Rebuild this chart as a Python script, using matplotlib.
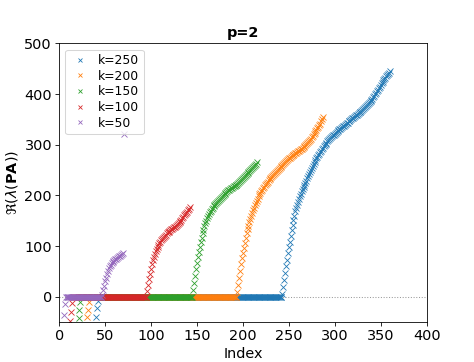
import numpy as np
import matplotlib
matplotlib.use("Agg")
import matplotlib.pyplot as plt

labels = ["k=250", "k=200", "k=150", "k=100", "k=50"]

# first index of each series
start_index = [40, 30, 21, 12, 4]

# leading negative eigenvalues (sorted ascending)
neg_values = [
    [-39, -23, -8.5],
    [-40, -26, -10],
    [-42, -26, -11],
    [-47, -29, -12.5],
    [-60, -36, -14],
]

# number of (near) zero eigenvalues following the negatives
zero_counts = [200, 161, 122, 81, 40]

rise_250 = [6, 20, 34, 47, 60, 73, 86, 98, 109, 120, 131, 141, 151, 160, 169,
            176, 182, 188, 193, 198, 203, 208, 213, 217, 221, 225, 229, 234, 238,
            242, 246, 250, 254, 258, 262, 266, 270, 273, 276, 279, 282, 285, 288,
            291, 294, 297, 299, 302, 304, 307, 309, 311, 313, 315, 317, 319, 320,
            322, 324, 326, 327, 329, 331, 332, 334, 335, 337, 338, 340, 341, 343,
            344, 346, 347, 349, 350, 352, 353, 355, 356, 358, 359, 361, 362, 364,
            365, 367, 369, 370, 372, 374, 376, 378, 380, 382, 384, 386, 388, 391,
            394, 397, 400, 403, 406, 409, 412, 415, 418, 421, 424, 427, 429, 432,
            435, 437, 440, 442, 445]
rise_200 = [10, 24, 38, 51, 64, 76, 87, 97, 107, 116, 125, 133, 140, 147, 154,
            160, 166, 171, 176, 181, 186, 190, 194, 198, 202, 205, 208, 211, 214,
            217, 220, 222, 225, 227, 230, 232, 235, 237, 239, 241, 243, 245, 247,
            249, 251, 253, 255, 257, 259, 261, 263, 265, 266, 268, 270, 271, 273,
            274, 276, 277, 279, 280, 281, 283, 284, 285, 287, 288, 289, 291, 292,
            294, 296, 297, 299, 301, 303, 305, 307, 309, 312, 315, 318, 321, 324,
            327, 330, 333, 336, 339, 342, 346, 350, 355]
rise_150 = [14, 28, 41, 54, 66, 78, 89, 99, 108, 117, 125, 132, 139, 145, 150,
            155, 159, 163, 167, 170, 173, 176, 179, 181, 183, 185, 187, 189, 191,
            193, 195, 197, 199, 201, 203, 205, 207, 208, 210, 211, 213, 214, 215,
            216, 218, 219, 220, 221, 223, 224, 226, 228, 230, 232, 234, 236, 238,
            240, 242, 245, 247, 249, 251, 253, 255, 257, 259, 261, 263, 266]
rise_100 = [12, 24, 35, 45, 55, 64, 72, 79, 85, 90, 95, 99, 102, 106, 109, 112,
            115, 117, 119, 121, 123, 125, 127, 128, 130, 131, 133, 134, 135, 137,
            138, 140, 142, 144, 146, 148, 150, 152, 155, 158, 161, 163, 166, 168,
            171, 174, 177]
rise_50 = [4, 13, 22, 31, 38, 45, 51, 56, 60, 63, 66, 68, 70, 72, 74, 75, 77, 78,
           80, 81, 83, 84, 86, 321]

rises = [rise_250, rise_200, rise_150, rise_100, rise_50]
colors = ["#1f77b4", "#ff7f0e", "#2ca02c", "#d62728", "#9467bd"]

fig = plt.figure(figsize=(474 / 74, 362 / 74), dpi=74)
ax = fig.add_axes([0.125, 0.11, 0.775, 0.77])

ax.axhline(0, color="0.6", linestyle=":", linewidth=1.0, zorder=0)

for lab, s0, neg, nz, rise, c in zip(labels, start_index, neg_values,
                                     zero_counts, rises, colors):
    vals = np.concatenate([neg, np.zeros(nz), rise])
    idx = np.arange(s0, s0 + len(vals))
    ax.plot(idx, vals, linestyle="none", marker="x", markersize=5,
            markeredgewidth=0.8, color=c, label=lab)

ax.set_xlim(0, 400)
ax.set_ylim(-50, 500)
ax.set_xticks(np.arange(0, 401, 50))
ax.set_yticks(np.arange(0, 501, 100))
ax.tick_params(labelsize=14)
ax.set_xlabel("Index", fontsize=14)
ax.set_ylabel(r"$\Re(\lambda(\mathbf{PA}))$", fontsize=14)
ax.set_title("p=2", fontsize=14, fontweight="bold")
leg = ax.legend(loc="upper left", fontsize=12, labelspacing=0.22,
                handlelength=1.6, handletextpad=0.7, borderpad=0.35)
for h in leg.legend_handles:
    h.set_markersize(4)

fig.savefig("out.png", dpi=74)
